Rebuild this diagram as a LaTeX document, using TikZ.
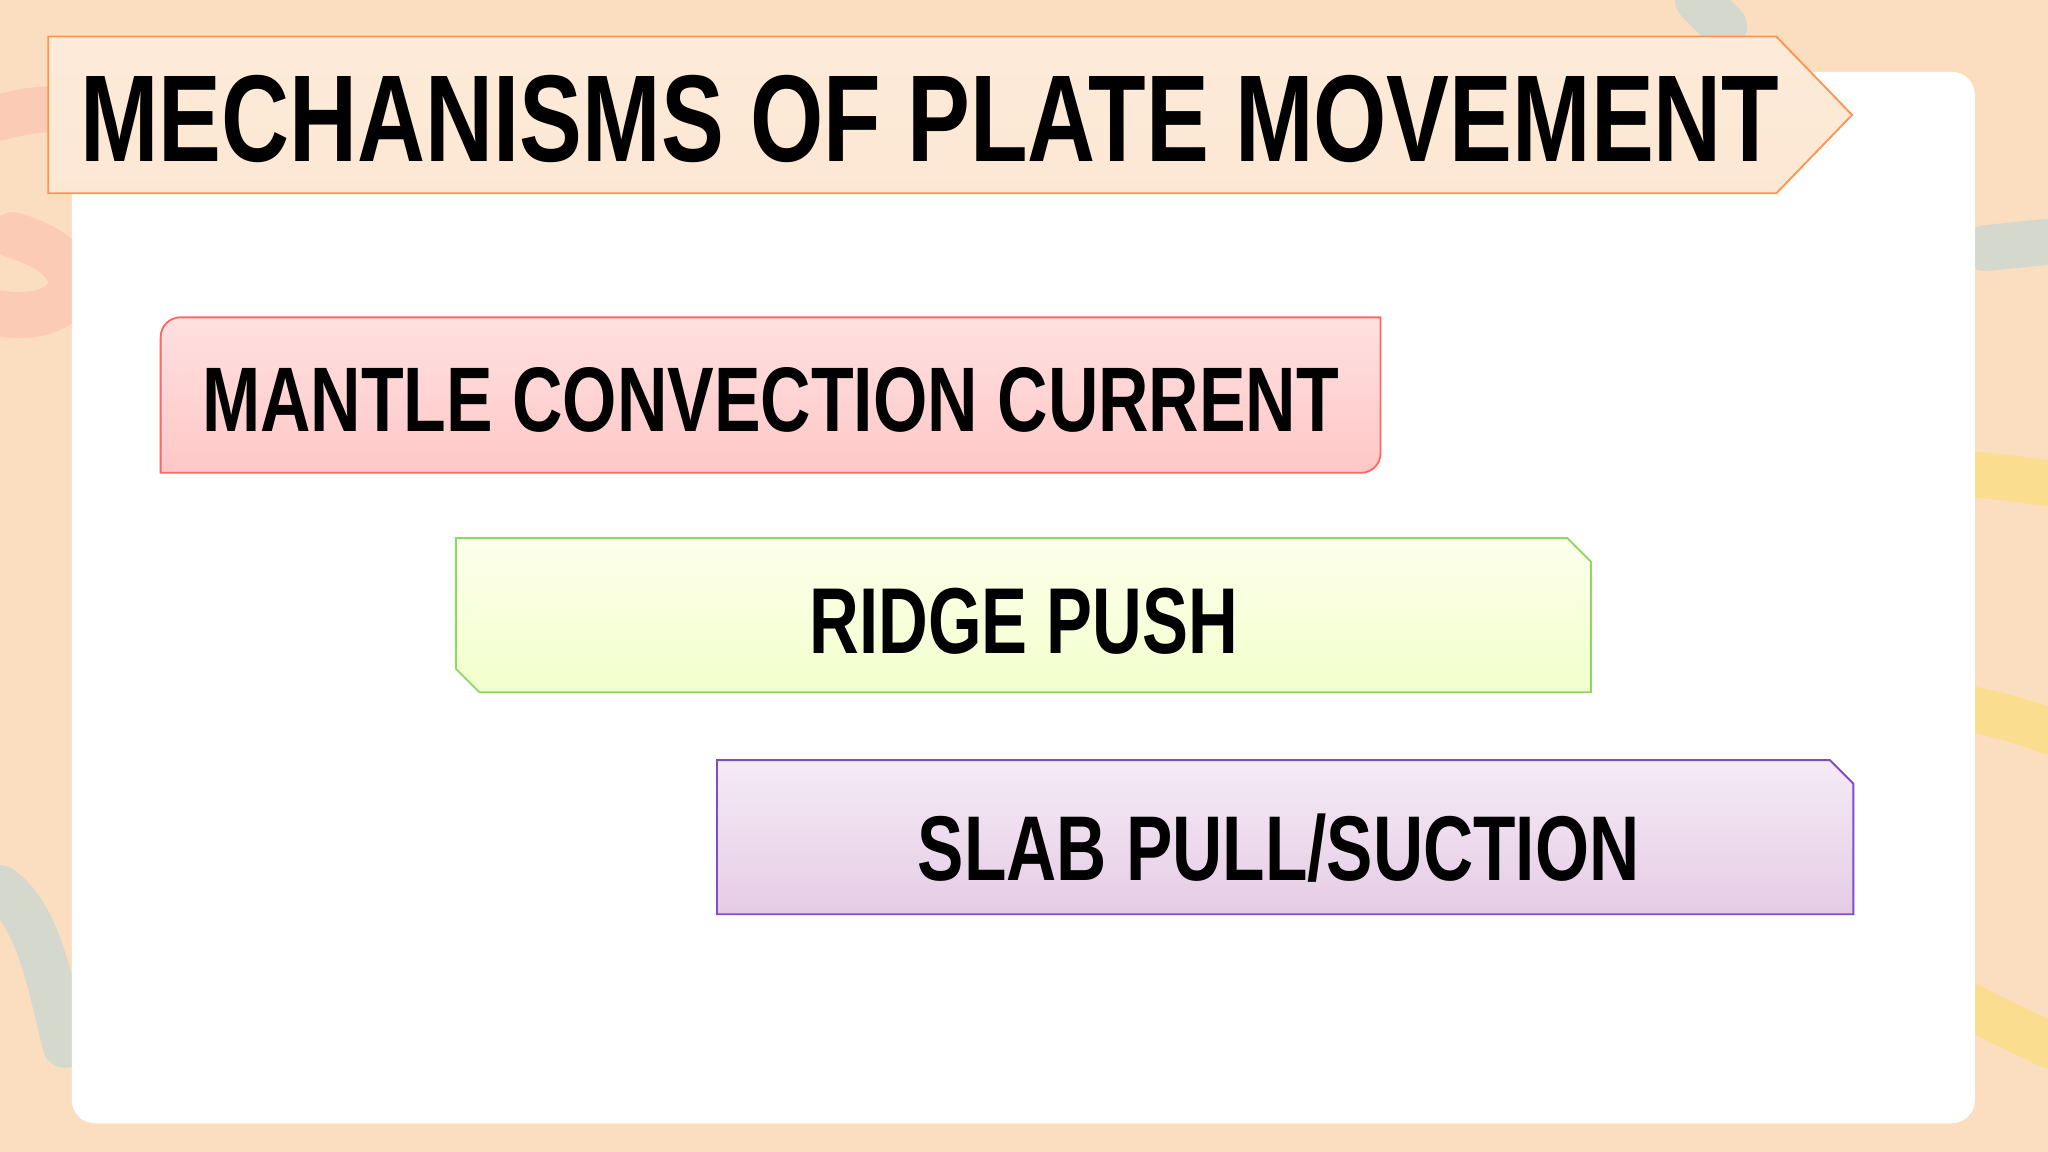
\documentclass[tikz,border=0pt]{standalone}
\usepackage{fontspec}
\setmainfont{Liberation Sans}
\usepackage{graphicx}
\begin{document}
\begin{tikzpicture}[x=0.01cm,y=-0.01cm,
  lbl/.style={inner sep=0pt,anchor=center},
  boxline/.style={line width=0.4pt},
  squig/.style={line width=10pt,line cap=round,opacity=0.25}]
\definecolor{bgpeach}{HTML}{FBDDC0}
\fill[bgpeach] (0,0) rectangle (1568,882);
\useasboundingbox (0,0) rectangle (1568,882);
% decorative squiggles
\draw[squig,color=pink!80!red] (0,90) .. controls (100,60) and (200,140) .. (260,160);
\draw[squig,color=pink!80!red] (10,180) .. controls (80,200) and (60,250) .. (0,240);
\draw[squig,color=yellow!80!orange] (1140,410) .. controls (1250,440) and (1300,450) .. (1340,400) .. controls (1400,350) and (1500,360) .. (1568,370);
\draw[squig,color=yellow!80!orange] (1360,570) .. controls (1420,520) and (1520,540) .. (1568,560);
\draw[squig,color=yellow!80!orange] (1420,700) .. controls (1470,760) and (1530,780) .. (1568,800);
\draw[squig,color=cyan!60] (0,680) .. controls (30,700) and (40,760) .. (50,800);
\draw[squig,color=cyan!60] (1520,190) -- (1568,185);
\draw[squig,color=cyan!60] (1300,0) -- (1320,20);
% white panel
\fill[white,rounded corners=5] (55,55) rectangle (1512,860);
% title banner
\draw[boxline,draw=orange!80!red!70,top color=white!40!bgpeach,bottom color=bgpeach!70]
  (37,28) -- (1360,28) -- (1418,88) -- (1360,148) -- (37,148) -- cycle;
\node[lbl] (title) at (712,91) {\resizebox{13.0cm}{0.66cm}{\bfseries MECHANISMS OF PLATE MOVEMENT}};
% box 1
\draw[boxline,draw=red!60!white,top color=red!12,bottom color=red!22]
  (123,362) -- (123,258) arc[start angle=180,end angle=270,radius=15] -- (1057,243) -- (1057,347) arc[start angle=0,end angle=90,radius=15] -- cycle;
\node[lbl] (b1) at (590,306) {\resizebox{8.7cm}{0.49cm}{\bfseries MANTLE CONVECTION CURRENT}};
% box 2
\draw[boxline,draw=green!50!olive!60,top color=green!10!yellow!8,bottom color=green!25!yellow!20]
  (349,412) -- (1200,412) -- (1218,430) -- (1218,530) -- (367,530) -- (349,512) -- cycle;
\node[lbl] (b2) at (784,476) {\resizebox{3.28cm}{0.5cm}{\bfseries RIDGE PUSH}};
% box 3
\draw[boxline,draw=violet!60!blue!70,top color=violet!8,bottom color=violet!20]
  (549,582) -- (1401,582) -- (1419,600) -- (1419,700) -- (549,700) -- cycle;
\node[lbl] (b3) at (979,649) {\resizebox{5.52cm}{0.51cm}{\bfseries SLAB PULL/SUCTION}};
\end{tikzpicture}
\end{document}
